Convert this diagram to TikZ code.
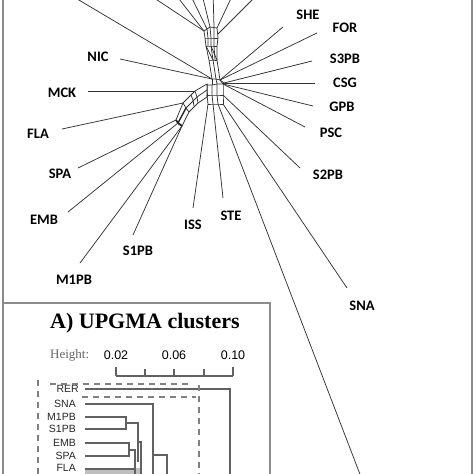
\documentclass[tikz,border=0pt]{standalone}
\usepackage{fontspec}
\newfontfamily\labfont{Carlito}
\newfontfamily\arialfont{Liberation Sans}
\newfontfamily\tmsfont{Liberation Serif}
\tikzset{
  net/.style={draw=black!80, line width=0.75pt},
  taxon/.style={font=\labfont\bfseries\fontsize{14.5}{14.5}\selectfont, inner sep=0pt},
  tree/.style={draw=black!62, line width=1.1pt},
  leaf/.style={font=\arialfont\fontsize{10.5}{10.5}\selectfont, inner sep=0pt, anchor=east, text=black!85},
  frame/.style={draw=black!45, line width=1.5pt},
  cut/.style={draw=black!50, line width=1.5pt, dash pattern=on 6pt off 5pt}
}
\begin{document}
\begin{tikzpicture}[x=1pt,y=-1pt]
\useasboundingbox (0,0) rectangle (474,474);
\clip (0,0) rectangle (474,474);
% frame of the figure and of the inset
\draw[frame] (3,0) -- (3,474);
\draw[frame] (472,0) -- (472,474);
\draw[frame] (3,303) -- (270,303) -- (270,474);

% --- network: knots ---
\coordinate (uL1) at (204,31); \coordinate (uM1) at (210,27); \coordinate (uR1) at (217,28);
\coordinate (uL2) at (205,38); \coordinate (uM2) at (211,38); \coordinate (uR2) at (218,38);
\coordinate (uL3) at (206,46); \coordinate (uM3) at (211,46); \coordinate (uR3) at (217,46);
\coordinate (uL4) at (209,60); \coordinate (uM4) at (213,60); \coordinate (uR4) at (217,60);
\coordinate (hL) at (212,79); \coordinate (hM) at (216,79); \coordinate (hR) at (220,80);
\coordinate (hX) at (224,83);
\draw[net] (uL1) -- (uL2) -- (uL3) -- (uL4) -- (hL);
\draw[net] (uM1) -- (uM2) -- (uM3) -- (uM4) -- (hM);
\draw[net] (uR1) -- (uR2) -- (uR3) -- (uR4) -- (hR);
\draw[net] (uL1) -- (uM1) -- (uR1);
\draw[net] (uL2) -- (uM2) -- (uR2);
\draw[net] (uL3) -- (uM3) -- (uR3);
\draw[net] (uL4) -- (uM4) -- (uR4);
\draw[net] (hL) -- (hM) -- (hR) -- (hX);
\draw[net] (207,29) -- (208,38) -- (208,46);
\draw[net] (214,27) -- (214,38) -- (214,46) -- (215,60);
\draw[net] (uL3) -- (uM4); \draw[net] (uM3) -- (uR4);
% centre ladder
\coordinate (c1) at (207,85); \coordinate (c2) at (212,85); \coordinate (c3) at (217,84); \coordinate (c4) at (223,84);
\coordinate (d1) at (207,95); \coordinate (d2) at (212,95); \coordinate (d3) at (217,95); \coordinate (d4) at (223,95);
\coordinate (e1) at (208,104); \coordinate (e2) at (213,104); \coordinate (e3) at (218,104); \coordinate (e4) at (223,104);
\draw[net] (c1) -- (c2) -- (c3) -- (c4) -- (hX);
\draw[net] (d1) -- (d2) -- (d3) -- (d4);
\draw[net] (e1) -- (e2) -- (e3) -- (e4);
\draw[net] (c1) -- (d1) -- (e1);
\draw[net] (c2) -- (d2) -- (e2);
\draw[net] (c3) -- (d3) -- (e3);
\draw[net] (c4) -- (d4) -- (e4);
\draw[net] (hL) -- (c2); \draw[net] (hM) -- (c3); \draw[net] (hR) -- (c4);
% lower left band
\coordinate (a1) at (207,84); \coordinate (a2) at (195,91); \coordinate (a3) at (183,103); \coordinate (a4) at (176,120);
\coordinate (b1) at (207,90); \coordinate (b2) at (197,97); \coordinate (b3) at (186,108); \coordinate (b4) at (178,123);
\coordinate (g1) at (207,97); \coordinate (g2) at (198,103); \coordinate (g3) at (189,112); \coordinate (g4) at (182,126);
\draw[net] (c1) -- (a1) -- (a2) -- (a3) -- (a4);
\draw[net] (b1) -- (b2) -- (b3) -- (b4);
\draw[net] (d1) -- (g1) -- (g2) -- (g3) -- (g4);
\draw[net] (a1) -- (b1) -- (g1);
\draw[net] (a2) -- (b2) -- (g2);
\draw[net] (a3) -- (b3) -- (g3);
\draw[net] (a4) -- (b4) -- (g4);
\draw[net] (191,95) -- (193,100) -- (194,106);
\draw[black!85, line width=1.8pt] (a4) -- (b4) -- (g4);
\draw[black!85, line width=1.3pt] (b3) -- (b4);

% --- network: edges to the taxa ---
\draw[net] (62,-10) -- (hL);
\draw[net] (142,-10) -- (uL1);
\draw[net] (172,-10) -- (uL1);
\draw[net] (188,-10) -- (207,29);
\draw[net] (201,-10) -- (uM1);
\draw[net] (213,-10) -- (214,27);
\draw[net] (235,-10) -- (uR1);
\draw[net] (262,-10) -- (218,34);
\coordinate (she-e) at (283,27);  \draw[net] (she-e) -- (hR);
\coordinate (for-e) at (317,33);  \draw[net] (for-e) -- (hR);
\coordinate (s3pb-e) at (312,61); \draw[net] (s3pb-e) -- (hX);
\coordinate (csg-e) at (315,83);  \draw[net] (csg-e) -- (hX);
\coordinate (gpb-e) at (313,106); \draw[net] (gpb-e) -- (c4);
\coordinate (psc-e) at (305,127); \draw[net] (psc-e) -- (c4);
\coordinate (s2pb-e) at (300,168); \draw[net] (s2pb-e) -- (d4);
\coordinate (sna-e) at (347,288); \draw[net] (sna-e) -- (e4);
\coordinate (rer-e) at (366,490); \draw[net] (rer-e) -- (e3);
\coordinate (ste-e) at (223,198); \draw[net] (ste-e) -- (e2);
\coordinate (iss-e) at (193,208); \draw[net] (iss-e) -- (e1);
\coordinate (s1pb-e) at (133,235); \draw[net] (s1pb-e) -- (g4);
\coordinate (m1pb-e) at (80,263); \draw[net] (m1pb-e) -- (g4);
\coordinate (emb-e) at (68,212);  \draw[net] (emb-e) -- (b4);
\coordinate (spa-e) at (78,168);  \draw[net] (spa-e) -- (a4);
\coordinate (fla-e) at (62,129);  \draw[net] (fla-e) -- (a3);
\coordinate (mck-e) at (88,91);   \draw[net] (mck-e) -- (a2);
\coordinate (nic-e) at (120,59);  \draw[net] (nic-e) -- (hL);

% --- network: labels ---
\node[taxon] (she) at (308,15) {SHE};
\node[taxon] (for) at (345,28) {FOR};
\node[taxon] (s3pb) at (345,59) {S3PB};
\node[taxon] (csg) at (345,83) {CSG};
\node[taxon] (gpb) at (342,107) {GPB};
\node[taxon] (psc) at (331,133) {PSC};
\node[taxon] (s2pb) at (328,175) {S2PB};
\node[taxon] (sna) at (362,306) {SNA};
\node[taxon] (ste) at (231,216) {STE};
\node[taxon] (iss) at (193,225) {ISS};
\node[taxon] (s1pb) at (138,251) {S1PB};
\node[taxon] (m1pb) at (74,280) {M1PB};
\node[taxon] (emb) at (44,220) {EMB};
\node[taxon] (spa) at (60,174) {SPA};
\node[taxon] (fla) at (38,134) {FLA};
\node[taxon] (mck) at (62,93) {MCK};
\node[taxon] (nic) at (98,57) {NIC};

% --- inset A) UPGMA ---
\node[font=\tmsfont\bfseries\fontsize{22}{22}\selectfont, inner sep=0pt, anchor=west] (title) at (50,323) {A) UPGMA clusters};
\node[font=\tmsfont\fontsize{13}{13}\selectfont, text=black!60, inner sep=0pt, anchor=west] (hgt) at (50,355) {Height:};
\node[font=\arialfont\fontsize{12.5}{12.5}\selectfont, inner sep=0pt] (h02) at (116,355) {0.02};
\node[font=\arialfont\fontsize{12.5}{12.5}\selectfont, inner sep=0pt] (h06) at (174,355) {0.06};
\node[font=\arialfont\fontsize{12.5}{12.5}\selectfont, inner sep=0pt] (h10) at (233,355) {0.10};
\draw[tree] (116,376) -- (233,376);
\draw[tree] (116,367) -- (116,376);
\draw[tree] (145,369) -- (145,376);
\draw[tree] (174,369) -- (174,376);
\draw[tree] (204,369) -- (204,376);
\draw[tree] (233,367) -- (233,376);

\node[leaf] (l-rer) at (79,389) {RER};
\node[leaf] (l-sna) at (76,404) {SNA};
\node[leaf] (l-m1pb) at (76,417) {M1PB};
\node[leaf] (l-s1pb) at (76,429) {S1PB};
\node[leaf] (l-emb) at (76,443) {EMB};
\node[leaf] (l-spa) at (76,456) {SPA};
\node[leaf] (l-fla) at (76,468) {FLA};
\fill[black!25] (85,468) rectangle (140,474);
\draw[tree] (85,389) -- (230,389) -- (230,480);
\draw[tree] (85,404) -- (153,404) -- (153,480);
\draw[tree] (153,455) -- (167,455) -- (167,480);
\draw[tree] (85,417) -- (126,417) -- (126,429) -- (85,429);
\draw[tree] (126,423) -- (138,423) -- (138,462);
\draw[tree] (85,443) -- (129,443) -- (129,456) -- (85,456);
\draw[tree] (129,450) -- (135,450) -- (135,480);
\draw[tree] (138,442) -- (141,442) -- (141,480);
\draw[tree] (85,469) -- (135,469);
% dashed cut
\draw[cut] (38,380) -- (38,480);
\draw[cut] (50,384) -- (192,384);
\draw[cut] (82,397) -- (196,397);
\draw[cut] (199,385) -- (199,480);
\end{tikzpicture}
\end{document}
